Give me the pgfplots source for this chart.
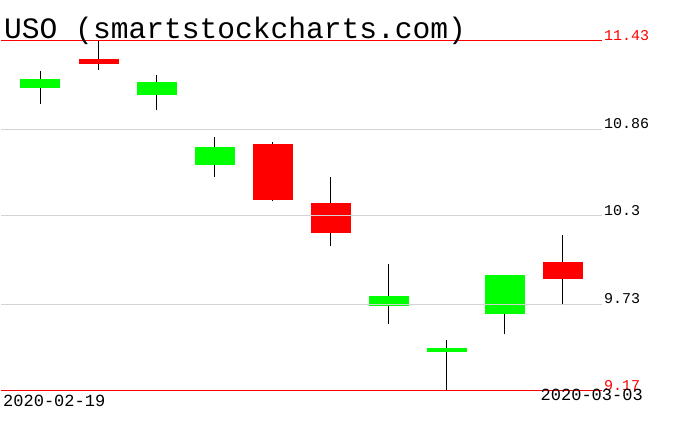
\documentclass[border=0pt]{standalone}
\usepackage{pgfplots}
\pgfplotsset{compat=1.18}
\usepackage{fontspec}
\setmainfont{Liberation Mono}
\definecolor{cgreen}{RGB}{0,255,0}
\definecolor{cred}{RGB}{255,0,0}
\definecolor{cgrid}{RGB}{211,211,211}
% x, open, high, low, close, colour
\newcommand{\candle}[6]{%
  \addplot[black, line width=1pt] coordinates {(#1,#4) (#1,#3)};
  \addplot[#6, line width=40pt] coordinates {(#1,#2) (#1,#5)};
}
\begin{document}
\begin{tikzpicture}[x=1pt,y=1pt]
\useasboundingbox (0,0) rectangle (676,431);
\begin{axis}[
  at={(0.2,-0.5)}, anchor=south west,
  width=676pt, height=431pt, scale only axis,
  hide axis,
  xmin=-0.677, xmax=10.968,
  ymin=8.9053, ymax=11.6882,
]
\candle{0}{11.128}{11.236}{11.019}{11.185}{cgreen}
\candle{1}{11.314}{11.430}{11.243}{11.277}{cred}
\candle{2}{11.077}{11.210}{10.986}{11.165}{cgreen}
\candle{3}{10.631}{10.810}{10.548}{10.746}{cgreen}
\candle{4}{10.765}{10.776}{10.395}{10.399}{cred}
\candle{5}{10.384}{10.552}{10.102}{10.186}{cred}
\candle{6}{9.715}{9.988}{9.598}{9.784}{cgreen}
\candle{7}{9.418}{9.500}{9.170}{9.448}{cgreen}
\candle{8}{9.668}{9.919}{9.534}{9.919}{cgreen}
\candle{9}{10.003}{10.178}{9.721}{9.889}{cred}
% grid lines
\addplot[cgrid, line width=1pt] coordinates {(-0.7,10.86) (9.676,10.86)};
\addplot[cgrid, line width=1pt] coordinates {(-0.7,10.30) (9.676,10.30)};
\addplot[cgrid, line width=1pt] coordinates {(-0.7,9.73) (9.676,9.73)};
\addplot[cred, line width=1pt] coordinates {(-0.7,11.43) (9.676,11.43)};
\addplot[cred, line width=1pt] coordinates {(-0.7,9.17) (9.676,9.17)};
\end{axis}
% labels
\node[anchor=base west, inner sep=0pt, font=\fontsize{29.6}{30}\selectfont] at (4,392.5) {USO (smartstockcharts.com)};
\node[anchor=base west, inner sep=0pt, text=cred, font=\fontsize{15}{16}\selectfont] at (604,390.3) {11.43};
\node[anchor=base west, inner sep=0pt, font=\fontsize{15}{16}\selectfont] at (604,302) {10.86};
\node[anchor=base west, inner sep=0pt, font=\fontsize{15}{16}\selectfont] at (604,215) {10.3};
\node[anchor=base west, inner sep=0pt, font=\fontsize{15}{16}\selectfont] at (604,127.7) {9.73};
\node[anchor=base west, inner sep=0pt, text=cred, font=\fontsize{15}{16}\selectfont] at (604,41) {9.17};
\node[anchor=base west, inner sep=0pt, font=\fontsize{17}{18}\selectfont] at (3,25) {2020-02-19};
\node[anchor=base west, inner sep=0pt, font=\fontsize{17}{18}\selectfont] at (540.5,30.3) {2020-03-03};
\end{tikzpicture}
\end{document}
